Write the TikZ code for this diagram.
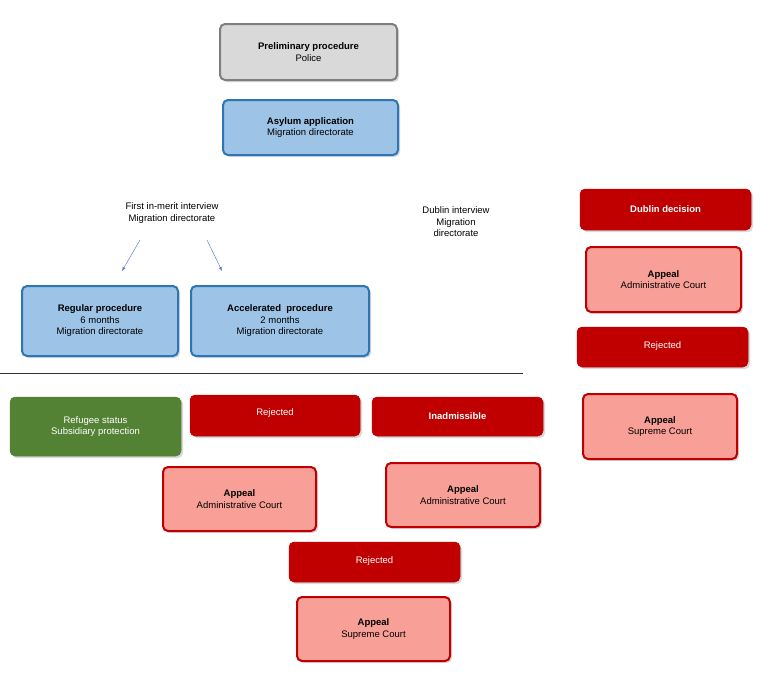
\documentclass[tikz,border=0pt]{standalone}
\usepackage{fontspec}
\setmainfont{Liberation Sans}
\usetikzlibrary{shadows}
\definecolor{pgray}{HTML}{D9D9D9}\definecolor{pgrayb}{HTML}{7F7F7F}
\definecolor{pblue}{HTML}{9DC3E6}\definecolor{pblueb}{HTML}{2E75B6}
\definecolor{dred}{HTML}{C00000}\definecolor{pink}{HTML}{F8A097}
\definecolor{dgreen}{HTML}{548235}\definecolor{arr}{HTML}{4472C4}
\begin{document}
\begin{tikzpicture}[x=1pt,y=-1pt,font=\fontsize{9.5}{11.5}\selectfont,
 box/.style={draw,rounded corners=5pt,line width=2pt,align=center,drop shadow={opacity=0.3,shadow xshift=2pt,shadow yshift=-2pt}},
 gray/.style={box,fill=pgray,draw=pgrayb},
 blue/.style={box,fill=pblue,draw=pblueb},
 red/.style={box,fill=dred,draw=dred,text=white,line width=0.5pt},
 green/.style={box,fill=dgreen,draw=dgreen,text=white,line width=0.5pt},
 appeal/.style={box,fill=pink,draw=dred}]
\useasboundingbox (0,0) rectangle (768,673);
\newcommand{\bx}[7]{\node[#1,minimum width=#4-#2,minimum height=#5-#3] (#6) at ({(#2+#4)/2},{(#3+#5)/2}) {#7};}
\bx{gray}{220}{24}{397}{80}{pre}{\textbf{Preliminary procedure}\\Police}
\bx{blue}{223}{100}{398}{155}{asy}{\textbf{Asylum application}\\Migration directorate}
\node[align=center] (fi) at (172,213) {First in-merit interview\\ Migration directorate};
\node[align=center] (di) at (456,222) {Dublin interview\\Migration\\directorate};
\coordinate (a1) at (140,240); \coordinate (a2) at (122,271);
\coordinate (b1) at (207,240); \coordinate (b2) at (222,271);
\draw[arr,-latex] (a1) -- (a2);
\draw[arr,-latex] (b1) -- (b2);
\bx{blue}{22}{286}{178}{356}{reg}{\textbf{Regular procedure}\\6 months\\Migration directorate}
\bx{blue}{191}{286}{369}{356}{acc}{\textbf{Accelerated\ \ procedure}\\2 months\\Migration directorate}
\coordinate (l1) at (0,373); \coordinate (l2) at (523,373);
\draw[black!80] (l1) -- (l2);
\bx{green}{10}{397}{181}{456}{ref}{Refugee status\\Subsidiary protection}
\bx{red}{190}{395}{360}{436}{rej1}{\raisebox{7pt}{Rejected}}
\bx{red}{372}{397}{543}{436}{inad}{\textbf{Inadmissible}}
\bx{appeal}{163}{467}{316}{531}{ap1}{\textbf{Appeal}\\Administrative Court}
\bx{appeal}{386}{463}{540}{527}{ap2}{\textbf{Appeal}\\Administrative Court}
\bx{red}{289}{542}{460}{582}{rej2}{\raisebox{3pt}{Rejected}}
\bx{appeal}{297}{597}{450}{661}{ap3}{\textbf{Appeal}\\Supreme Court}
\bx{red}{580}{189}{751}{230}{dd}{\textbf{Dublin decision}}
\bx{appeal}{586}{247}{741}{312}{ap4}{\textbf{Appeal}\\Administrative Court}
\bx{red}{577}{327}{748}{367}{rej3}{\raisebox{3pt}{Rejected}}
\bx{appeal}{583}{394}{737}{459}{ap5}{\textbf{Appeal}\\Supreme Court}
\end{tikzpicture}
\end{document}
